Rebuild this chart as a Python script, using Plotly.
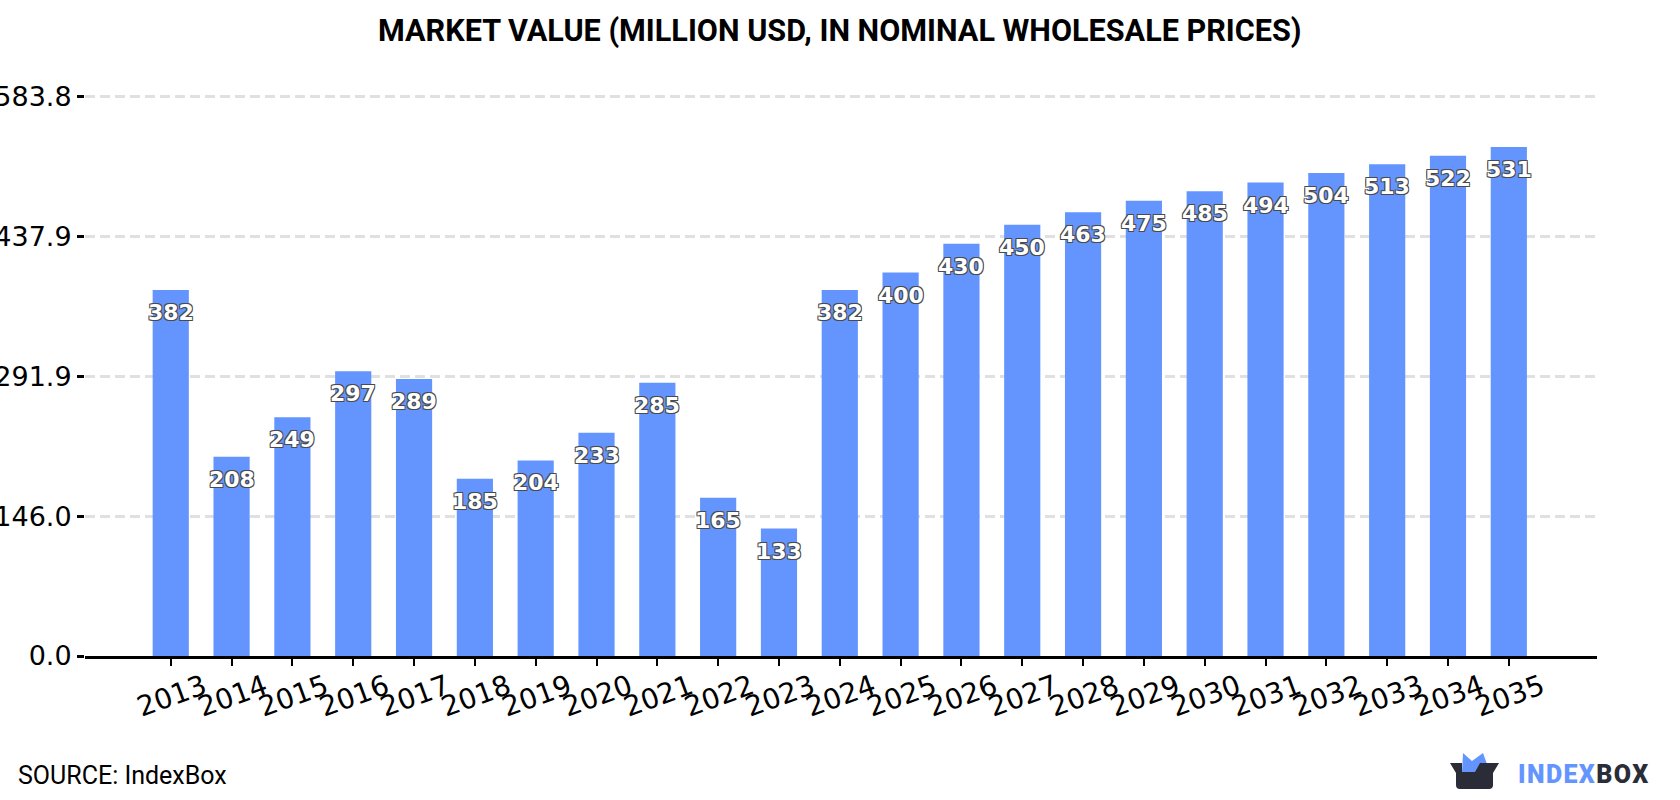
import plotly.graph_objects as go

# Market value series, million USD
years = [str(y) for y in range(2013, 2036)]
values = [382, 208, 249, 297, 289, 185, 204, 233, 285, 165, 133, 382,
          400, 430, 450, 463, 475, 485, 494, 504, 513, 522, 531]
y_ticks = [0.0, 146.0, 291.9, 437.9, 583.8]
y_tick_labels = ["0.0", "146.0", "291.9", "437.9", "583.8"]

W, H = 1680, 800
LEFT, RIGHT, TOP, BOTTOM = 85, 83, 91, 144
BAR_BLUE = "#6495FF"
INK = "#2A2C38"

# White numerals with a thin grey outline
OUTLINE = ",".join(f"{dx}px {dy}px 0 #4A4A4A" for dx, dy in
                   [(-1, -1), (1, -1), (-1, 1), (1, 1)])


def px_x(x):
    """Page pixel to paper fraction, horizontally."""
    return (x - LEFT) / (W - LEFT - RIGHT)


def px_y(y):
    """Page pixel to paper fraction, vertically."""
    return 1 - (y - TOP) / (H - TOP - BOTTOM)


def logo_path(points):
    """Build an SVG path in paper units from page-pixel commands."""
    parts = []
    for cmd, *coords in points:
        pairs = [f"{px_x(coords[i]):.5f},{px_y(coords[i + 1]):.5f}"
                 for i in range(0, len(coords), 2)]
        parts.append(cmd + " ".join(pairs))
    return " ".join(parts) + " Z"


fig = go.Figure(go.Bar(
    x=years, y=values, marker=dict(color=BAR_BLUE, line=dict(width=0)),
    width=0.595, hoverinfo="x+y",
))

annotations = [
    dict(x=i, y=val, xref="x", yref="y", text=str(val), showarrow=False,
         yanchor="top", yshift=-8,
         font=dict(family="DejaVu Sans", size=22, color="white", weight="bold",
                   shadow=OUTLINE))
    for i, val in enumerate(values)
]

annotations += [
    dict(x=px_x(840), y=px_y(31), xref="paper", yref="paper", showarrow=False, yanchor="middle",
         text="<b>MARKET VALUE (MILLION USD, IN NOMINAL WHOLESALE PRICES)</b>",
         font=dict(family="Roboto", size=30.6, color="black")),
    dict(x=px_x(16), y=px_y(775), xref="paper", yref="paper", showarrow=False,
         xanchor="left", yanchor="middle", text="SOURCE: IndexBox",
         font=dict(family="Roboto", size=25, color="black")),
    dict(x=px_x(1516), y=px_y(774), xref="paper", yref="paper", showarrow=False,
         xanchor="left", yanchor="middle",
         text=f'<span style="letter-spacing:1.4px;font-weight:900"><span style="fill:{BAR_BLUE}">INDEX</span>BOX</span>',
         font=dict(family="Roboto", size=25, color=INK)),
]

# Logo: dark open box with two blue flaps rising behind it
shapes = [
    dict(type="path", xref="paper", yref="paper", layer="above", line_width=0,
         fillcolor=BAR_BLUE,
         path=logo_path([("M", 1462, 772), ("L", 1463, 753), ("L", 1472, 761), ("L", 1483, 753),
                         ("L", 1487, 764), ("L", 1487, 772)])),
    dict(type="path", xref="paper", yref="paper", layer="above", line_width=0,
         fillcolor=INK,
         path=logo_path([("M", 1450, 763), ("L", 1462, 763), ("L", 1462, 772), ("L", 1475, 772),
                         ("L", 1480, 763), ("L", 1499, 763), ("L", 1493, 773), ("L", 1493, 785),
                         ("Q", 1493, 789, 1489, 789), ("L", 1460, 789),
                         ("Q", 1456, 789, 1456, 785), ("L", 1456, 773)])),
]

fig.update_layout(
    width=W, height=H,
    margin=dict(l=LEFT, r=RIGHT, t=TOP, b=BOTTOM, pad=0),
    paper_bgcolor="white", plot_bgcolor="white",
    showlegend=False, annotations=annotations, shapes=shapes,
    xaxis=dict(
        type="category", range=[-1.41, 23.45], tickangle=-20, automargin=False,
        showgrid=False, showline=True, linecolor="black", linewidth=3,
        ticks="outside", ticklen=7, tickwidth=2, tickcolor="black",
        ticklabelshift=33, ticklabelstandoff=-6,
        tickfont=dict(family="DejaVu Sans", size=28, color="black"),
    ),
    yaxis=dict(
        range=[0, 589.5], tickmode="array", tickvals=y_ticks, ticktext=y_tick_labels,
        showline=False, zeroline=False, automargin=False,
        showgrid=True, gridcolor="#E0E0E0", gridwidth=2.5, griddash="10px,5px",
        ticks="outside", ticklen=7, tickwidth=3, tickcolor="black",
        tickfont=dict(family="DejaVu Sans", size=27, color="black"),
    ),
)

fig.write_html("out.html")
